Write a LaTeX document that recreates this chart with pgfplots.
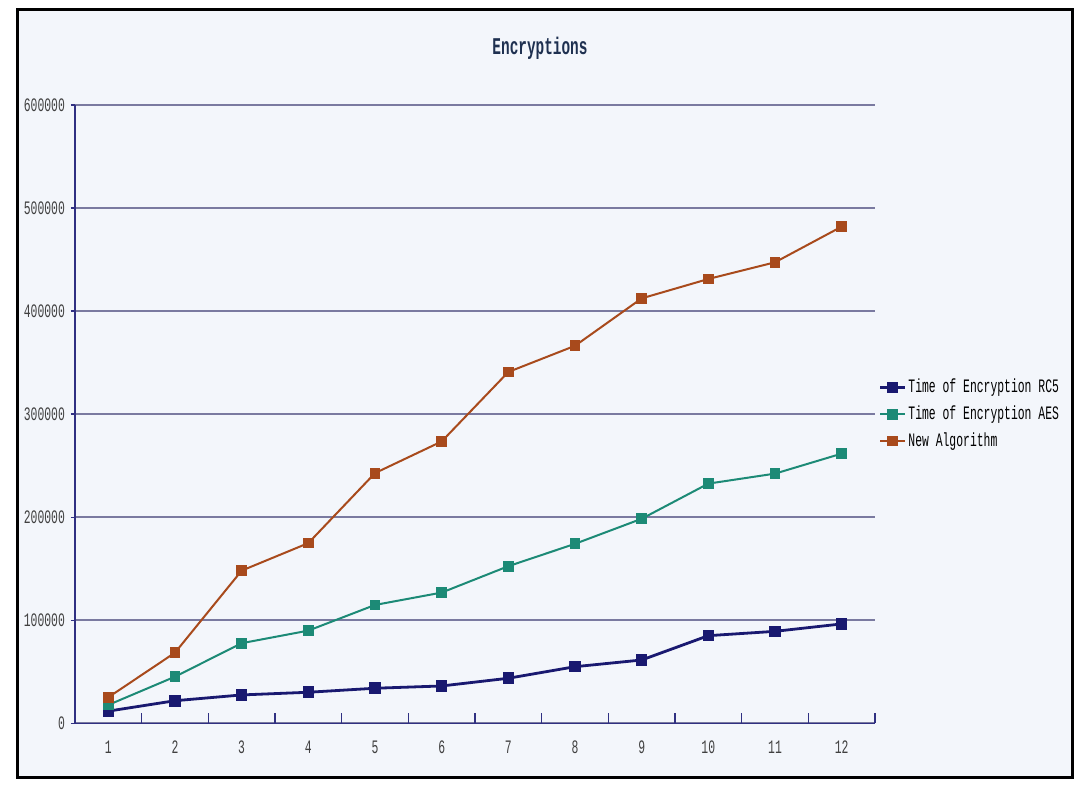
\documentclass[border=0pt]{standalone}
\usepackage{fontspec}
\usepackage{pgfplots}
\pgfplotsset{compat=1.18}
\newfontfamily\chartfont[FakeStretch=0.6]{Liberation Mono}
\definecolor{rcfive}{RGB}{25,25,112}
\definecolor{aes}{RGB}{28,138,118}
\definecolor{newalg}{RGB}{168,74,28}
\definecolor{gridc}{RGB}{122,122,160}
\definecolor{axisc}{RGB}{48,48,130}
\definecolor{bgc}{RGB}{243,246,251}
\definecolor{titlec}{RGB}{30,48,80}
\begin{document}
\begin{tikzpicture}
% full image extent (1px = 0.5pt), axis box SW corner at (0,0)
\fill[white] (-37.5pt,-33.75pt) rectangle (508.5pt,361.75pt);
\fill[bgc] (-28.5pt,-27.25pt) rectangle (498.5pt,356.75pt);
\draw[black,line width=1.5pt] (-28.5pt,-27.25pt) rectangle (498.5pt,356.75pt);
\begin{axis}[
  at={(0,0)}, anchor=south west,
  scale only axis,
  width=400pt, height=309.25pt,
  xmin=0.5, xmax=12.5,
  ymin=0, ymax=600000,
  axis lines=left,
  axis line style={-, axisc, line width=0.8pt},
  xtick={1,...,12},
  minor xtick={1.5,2.5,...,12.5},
  major x tick style={draw=none},
  minor x tick style={axisc, line width=0.8pt},
  minor tick length=5pt,
  xtick align=inside,
  ytick={0,100000,...,600000},
  ytick align=outside,
  major tick length=2pt,
  y tick style={axisc, line width=0.8pt},
  scaled y ticks=false,
  /pgf/number format/.cd, fixed, 1000 sep={}, assume math mode=true,
  /pgfplots/.cd,
  ymajorgrids,
  grid style={gridc, line width=1pt},
  tick label style={font=\chartfont\fontsize{9.5}{11}\selectfont, text=black!75},
  xticklabel style={yshift=-5pt},
  yticklabel style={xshift=0.5pt},
  legend style={at={(1.004,0.5)}, anchor=west, draw=none, fill=none,
    font=\chartfont\fontsize{9.5}{11}\selectfont, row sep=3pt,
    inner sep=0pt, nodes={inner sep=1pt}},
  legend cell align=left,
  legend image code/.code={\draw[mark repeat=2,mark phase=2] plot coordinates {(0cm,0cm) (0.22cm,0cm) (0.44cm,0cm)};},
  every axis plot/.append style={mark=square*, mark size=2.2pt},
]
\addplot[rcfive, line width=1.4pt, mark options={fill=rcfive, solid}] coordinates {
(1,12000) (2,22100) (3,27700) (4,30300) (5,34200) (6,36400)
(7,43900) (8,55100) (9,61600) (10,85200) (11,89400) (12,96600)};
\addlegendentry{Time of Encryption RC5}
\addplot[aes, line width=1pt, mark options={fill=aes, solid}] coordinates {
(1,18000) (2,45400) (3,77900) (4,90100) (5,115000) (6,127000)
(7,152600) (8,174300) (9,198600) (10,232700) (11,242400) (12,261800)};
\addlegendentry{Time of Encryption AES}
\addplot[newalg, line width=1pt, mark options={fill=newalg, solid}] coordinates {
(1,25400) (2,68700) (3,148300) (4,175000) (5,242900) (6,273600)
(7,341000) (8,366400) (9,412400) (10,431200) (11,447400) (12,482000)};
\addlegendentry{New Algorithm}
\end{axis}
\node[font=\chartfont\bfseries\fontsize{12}{14}\selectfont, text=titlec] at (232.5pt,337.75pt) {Encryptions};
\end{tikzpicture}
\end{document}
